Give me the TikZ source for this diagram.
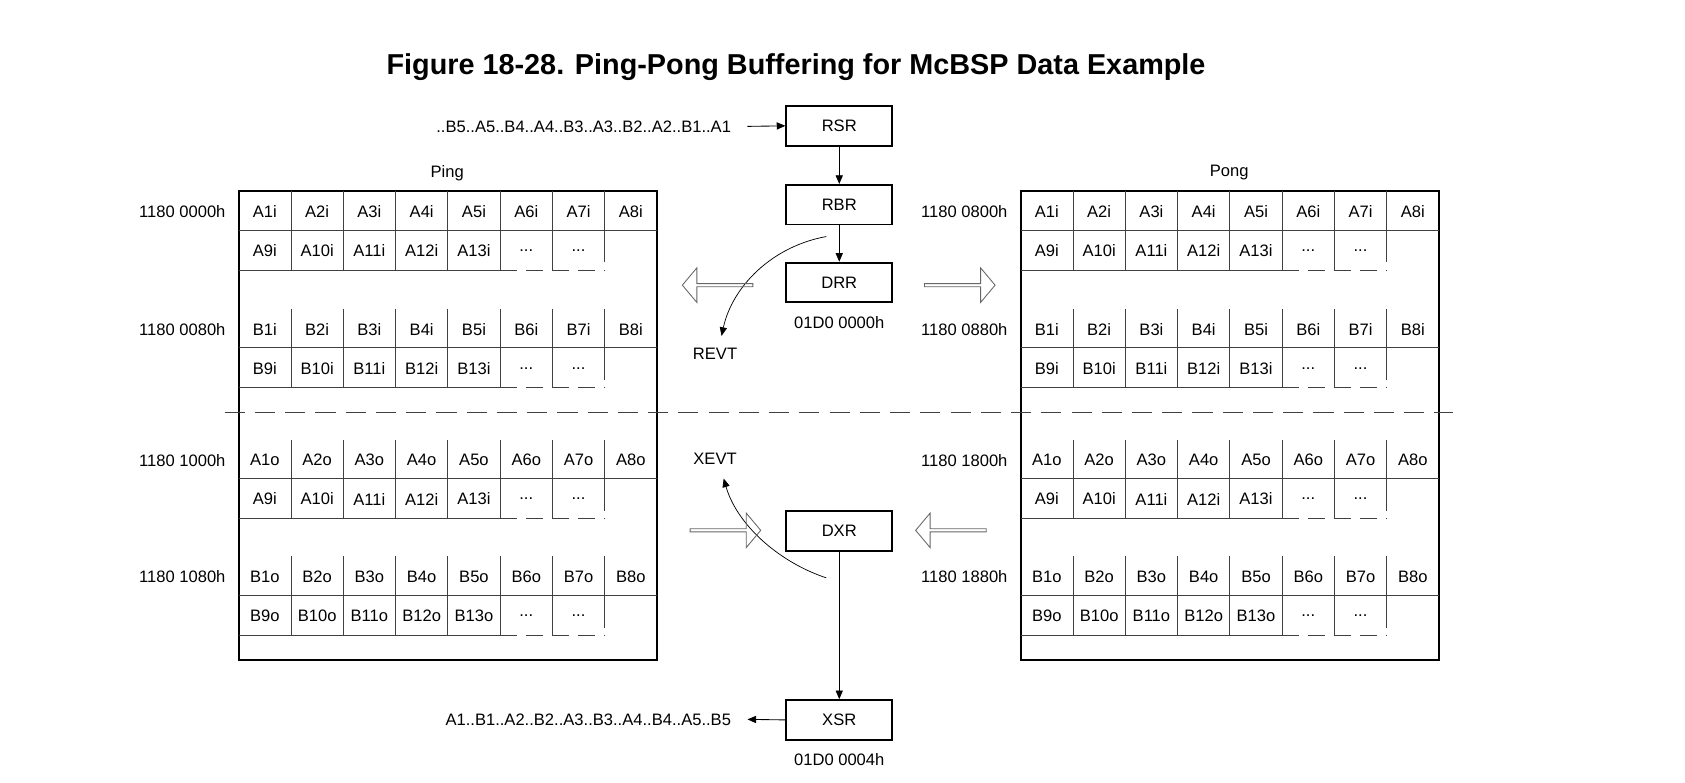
\documentclass[tikz,border=0pt]{standalone}
\usepackage{fontspec}
\setmainfont{Liberation Sans}
\usetikzlibrary{shapes.arrows,arrows.meta}
\begin{document}
\begin{tikzpicture}[x=0.75pt,y=-0.75pt,
  txt/.style={font=\fontsize{11.5}{13}\selectfont,inner sep=0pt},
  reg/.style={draw,line width=1.3pt,minimum width=73.5pt,minimum height=27.5pt,inner sep=0pt,font=\fontsize{11.5}{13}\selectfont},
  cell/.style={draw=black!75,line width=0.5pt},
  outer/.style={draw,line width=1.4pt},
  hol/.style={single arrow,draw=black!60,line width=0.6pt,minimum height=49pt,minimum width=24pt,single arrow head extend=3pt,inner sep=0pt,shape border uses incircle=false,single arrow tip angle=100},
  ar/.style={-{Triangle[length=6pt,width=5pt]},line width=0.6pt}]
\useasboundingbox (0,0) rectangle (1560,724);
\node[font=\fontsize{20}{24}\selectfont\bfseries] (title) at (737,62) {Figure 18-28. Ping-Pong Buffering for McBSP Data Example};

% blocks
\foreach \bx/\nm/\lbl/\aa/\ab/\ac/\ad in {221/ping/Ping/1180 0000h/1180 0080h/1180 1000h/1180 1080h, 945/pong/Pong/1180 0800h/1180 0880h/1180 1800h/1180 1880h}{
  \node[txt] at (\bx+193,160) {\lbl};
  \draw[outer] (\bx,177) rectangle (\bx+387,611);
  \foreach \yt/\lab in {177/\aa,286/\ab,407/\ac,515/\ad}{
    \node[txt,anchor=east] at (\bx-12,\yt+19) {\lab};
  }
  \foreach \yt in {177,286,407,515}{
    \draw[cell] (\bx,\yt+36) -- (\bx+387,\yt+36);
    \draw[cell] (\bx,\yt+73) -- (\bx+242,\yt+73);
    \draw[cell,dashed,dash pattern=on 12pt off 6pt] (\bx+242,\yt+73) -- (\bx+339,\yt+73);
    \foreach \c in {1,...,7}{\draw[cell] (\bx+\c*48.4,\yt) -- (\bx+\c*48.4,\yt+36);}
    \foreach \c in {1,...,6}{\draw[cell] (\bx+\c*48.4,\yt+36) -- (\bx+\c*48.4,\yt+73);}
    \draw[cell] (\bx+7*48.4,\yt+36) -- (\bx+7*48.4,\yt+66);
  }
  \foreach \yt/\r/\s in {177/A/i,286/B/i,407/A/o,515/B/o}{
    \foreach \c in {1,...,8}{\node[txt] at (\bx+\c*48.4-24.2,\yt+19) {\r\c\s};}
  }
  \foreach \yt/\r/\s in {177/A/i,286/B/i,407/A/i,515/B/o}{
    \foreach \c in {9,...,13}{\node[txt] at (\bx+\c*48.4-8*48.4-24.2,\yt+55) {\r\c\s};}
    \node[txt] at (\bx+5*48.4+24.2,\yt+55) {...};
    \node[txt] at (\bx+6*48.4+24.2,\yt+55) {...};
  }
}
\draw[line width=0.9pt,black!75,dash pattern=on 14pt off 7pt] (208,382) -- (1345,382);

% registers
\node[reg] (rsr) at (777,116.5) {RSR};
\node[reg] (rbr) at (777,189.5) {RBR};
\node[reg] (drr) at (777,261.5) {DRR};
\node[txt] (drra) at (777,299) {01D0 0000h};
\node[reg] (dxr) at (777,491.5) {DXR};
\node[reg] (xsr) at (777,666.5) {XSR};
\node[txt] (xsra) at (777,703) {01D0 0004h};
\node[txt,anchor=east] (in) at (677,117) {..B5..A5..B4..A4..B3..A3..B2..A2..B1..A1};
\node[txt,anchor=east] (out) at (677,666) {A1..B1..A2..B2..A3..B3..A4..B4..A5..B5};
\draw[ar] (in.east)++(15,0) -- (rsr.west);
\coordinate (oe) at (692,666);
\draw[ar] (xsr.west) -- (oe);
\draw[ar] (rsr) -- (rbr);
\draw[ar] (rbr) -- (drr);
\draw[ar] (dxr) -- (xsr);
\node[txt] (revt) at (662,328) {REVT};
\node[txt] (xevt) at (662,425) {XEVT};
\coordinate (rs) at (765,219);
\coordinate (xs) at (765,535);
\draw[ar,line width=0.5pt] (rs) .. controls (715,228) and (678,265) .. (668,311);
\draw[ar,line width=0.5pt] (xs) .. controls (720,520) and (682,485) .. (670,443);

% hollow arrows
\node[hol,shape border rotate=180] (h1) at (665,264) {};
\node[hol] (h2) at (888,264) {};
\node[hol] (h3) at (671,491) {};
\node[hol,shape border rotate=180] (h4) at (881,491) {};
\end{tikzpicture}
\end{document}
